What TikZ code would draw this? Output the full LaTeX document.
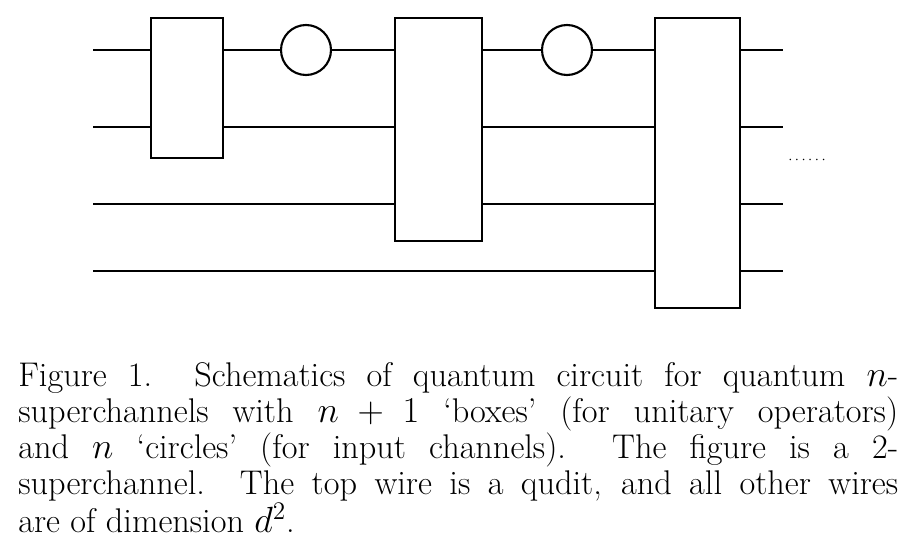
\documentclass[tikz,border=0pt]{standalone}
\begin{document}
\begin{tikzpicture}[x=0.02cm,y=-0.02cm,
  wire/.style={line width=1.2pt},
  box/.style={draw,line width=1.2pt,fill=white},
  circ/.style={draw,line width=1.2pt,fill=white,circle,minimum size=1cm,inner sep=0}]
\useasboundingbox (0,0) rectangle (916,554);
\coordinate (a1) at (93,50); \coordinate (b1) at (783,50);
\coordinate (a2) at (93,127); \coordinate (b2) at (783,127);
\coordinate (a3) at (93,204); \coordinate (b3) at (783,204);
\coordinate (a4) at (93,271); \coordinate (b4) at (783,271);
\foreach \i in {1,2,3,4}{\draw[wire] (a\i) -- (b\i);}
\draw[box] (151,18) rectangle (223,158);
\draw[box] (395,18) rectangle (482,241);
\draw[box] (655,18) rectangle (740,308);
\node[circ] (c1) at (306,50) {};
\node[circ] (c2) at (567,50) {};
\node (dots) at (807,160) {\footnotesize$\cdots\cdots$};
\node[anchor=north west,inner sep=0,text width=17.6cm,align=justify] (cap) at (18,362)
{\fontsize{19.5}{20.5}\selectfont Figure 1.\ \ Schematics of quantum circuit for quantum $n$-\linebreak superchannels with $n+1$ `boxes' (for unitary operators)\linebreak and $n$ `circles' (for input channels).\ \ The figure is a 2-\linebreak superchannel. The top wire is a qudit, and all other wires\linebreak are of dimension $d^2$.\par};
\end{tikzpicture}
\end{document}
